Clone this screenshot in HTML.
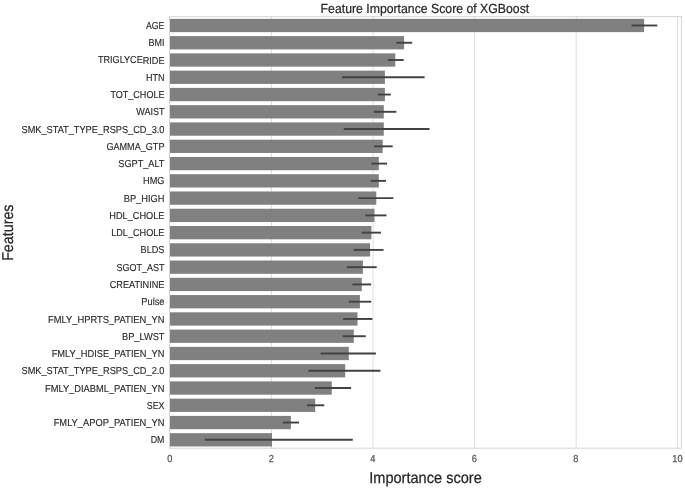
<!DOCTYPE html>
<html><head><meta charset="utf-8"><title>Feature Importance Score of XGBoost</title>
<style>
html,body{margin:0;padding:0;background:#fff;}
body{width:685px;height:488px;overflow:hidden;}
svg{display:block;}
text{font-family:"Liberation Sans",Arial,sans-serif;text-rendering:geometricPrecision;}
.yl{font-size:10.1px;fill:#2b2b2b;stroke:#2b2b2b;stroke-width:0.15px;text-anchor:end;}
.xl{font-size:10.1px;fill:#555;stroke:#555;stroke-width:0.25px;text-anchor:middle;}
.ax{font-size:15.7px;fill:#262626;stroke:#262626;stroke-width:0.25px;text-anchor:middle;}
.tt{font-size:13.2px;fill:#262626;stroke:#262626;stroke-width:0.22px;text-anchor:middle;}
</style></head><body>
<svg width="685" height="488" viewBox="0 0 685 488">
<rect width="685" height="488" fill="#fff"/>
<line x1="271.54" y1="16.6" x2="271.54" y2="448.2" stroke="#dedede" stroke-width="1"/>
<line x1="373.08" y1="16.6" x2="373.08" y2="448.2" stroke="#dedede" stroke-width="1"/>
<line x1="474.62" y1="16.6" x2="474.62" y2="448.2" stroke="#dedede" stroke-width="1"/>
<line x1="576.16" y1="16.6" x2="576.16" y2="448.2" stroke="#dedede" stroke-width="1"/>
<line x1="677.70" y1="16.6" x2="677.70" y2="448.2" stroke="#dedede" stroke-width="1"/>
<rect x="170.0" y="18.83" width="474.10" height="13.3" fill="#808080"/>
<rect x="170.0" y="36.10" width="234.10" height="13.3" fill="#808080"/>
<rect x="170.0" y="53.36" width="225.30" height="13.3" fill="#808080"/>
<rect x="170.0" y="70.62" width="214.90" height="13.3" fill="#808080"/>
<rect x="170.0" y="87.89" width="214.90" height="13.3" fill="#808080"/>
<rect x="170.0" y="105.15" width="213.80" height="13.3" fill="#808080"/>
<rect x="170.0" y="122.42" width="213.80" height="13.3" fill="#808080"/>
<rect x="170.0" y="139.68" width="212.70" height="13.3" fill="#808080"/>
<rect x="170.0" y="156.94" width="208.80" height="13.3" fill="#808080"/>
<rect x="170.0" y="174.21" width="208.80" height="13.3" fill="#808080"/>
<rect x="170.0" y="191.47" width="206.30" height="13.3" fill="#808080"/>
<rect x="170.0" y="208.74" width="204.50" height="13.3" fill="#808080"/>
<rect x="170.0" y="226.00" width="201.40" height="13.3" fill="#808080"/>
<rect x="170.0" y="243.26" width="200.10" height="13.3" fill="#808080"/>
<rect x="170.0" y="260.53" width="192.90" height="13.3" fill="#808080"/>
<rect x="170.0" y="277.79" width="191.80" height="13.3" fill="#808080"/>
<rect x="170.0" y="295.06" width="189.90" height="13.3" fill="#808080"/>
<rect x="170.0" y="312.32" width="187.50" height="13.3" fill="#808080"/>
<rect x="170.0" y="329.58" width="183.80" height="13.3" fill="#808080"/>
<rect x="170.0" y="346.85" width="178.80" height="13.3" fill="#808080"/>
<rect x="170.0" y="364.11" width="175.20" height="13.3" fill="#808080"/>
<rect x="170.0" y="381.38" width="161.80" height="13.3" fill="#808080"/>
<rect x="170.0" y="398.64" width="145.20" height="13.3" fill="#808080"/>
<rect x="170.0" y="415.90" width="120.90" height="13.3" fill="#808080"/>
<rect x="170.0" y="433.17" width="102.00" height="13.3" fill="#808080"/>
<line x1="631.6" y1="25.48" x2="657.3" y2="25.48" stroke="#424242" stroke-width="1.9"/>
<line x1="396.4" y1="42.75" x2="412.2" y2="42.75" stroke="#424242" stroke-width="1.9"/>
<line x1="387.9" y1="60.01" x2="403.7" y2="60.01" stroke="#424242" stroke-width="1.9"/>
<line x1="342.0" y1="77.27" x2="424.6" y2="77.27" stroke="#424242" stroke-width="1.9"/>
<line x1="377.9" y1="94.54" x2="390.8" y2="94.54" stroke="#424242" stroke-width="1.9"/>
<line x1="373.7" y1="111.80" x2="396.4" y2="111.80" stroke="#424242" stroke-width="1.9"/>
<line x1="343.8" y1="129.07" x2="429.5" y2="129.07" stroke="#424242" stroke-width="1.9"/>
<line x1="374.2" y1="146.33" x2="392.7" y2="146.33" stroke="#424242" stroke-width="1.9"/>
<line x1="371.3" y1="163.59" x2="387.1" y2="163.59" stroke="#424242" stroke-width="1.9"/>
<line x1="370.6" y1="180.86" x2="386.0" y2="180.86" stroke="#424242" stroke-width="1.9"/>
<line x1="358.4" y1="198.12" x2="393.4" y2="198.12" stroke="#424242" stroke-width="1.9"/>
<line x1="365.3" y1="215.39" x2="386.5" y2="215.39" stroke="#424242" stroke-width="1.9"/>
<line x1="361.6" y1="232.65" x2="381.0" y2="232.65" stroke="#424242" stroke-width="1.9"/>
<line x1="353.7" y1="249.91" x2="383.5" y2="249.91" stroke="#424242" stroke-width="1.9"/>
<line x1="346.9" y1="267.18" x2="376.7" y2="267.18" stroke="#424242" stroke-width="1.9"/>
<line x1="352.4" y1="284.44" x2="371.2" y2="284.44" stroke="#424242" stroke-width="1.9"/>
<line x1="348.8" y1="301.71" x2="371.3" y2="301.71" stroke="#424242" stroke-width="1.9"/>
<line x1="343.1" y1="318.97" x2="372.4" y2="318.97" stroke="#424242" stroke-width="1.9"/>
<line x1="342.6" y1="336.23" x2="365.8" y2="336.23" stroke="#424242" stroke-width="1.9"/>
<line x1="320.6" y1="353.50" x2="375.9" y2="353.50" stroke="#424242" stroke-width="1.9"/>
<line x1="308.4" y1="370.76" x2="380.4" y2="370.76" stroke="#424242" stroke-width="1.9"/>
<line x1="314.9" y1="388.03" x2="351.1" y2="388.03" stroke="#424242" stroke-width="1.9"/>
<line x1="307.0" y1="405.29" x2="324.2" y2="405.29" stroke="#424242" stroke-width="1.9"/>
<line x1="282.8" y1="422.55" x2="299.1" y2="422.55" stroke="#424242" stroke-width="1.9"/>
<line x1="204.8" y1="439.82" x2="352.8" y2="439.82" stroke="#424242" stroke-width="1.9"/>
<rect x="169.5" y="16.6" width="511.90" height="431.60" fill="none" stroke="#d6d6d6" stroke-width="1"/>
<text class="yl" transform="matrix(0.8644 0.0004 0 1 164.45 28.73)">AGE</text>
<text class="yl" transform="matrix(0.8880 0.0004 0 1 164.45 45.75)">BMI</text>
<text class="yl" transform="matrix(0.9003 0.0004 0 1 164.45 63.51)">TRIGLYCERIDE</text>
<text class="yl" transform="matrix(0.8948 0.0004 0 1 164.45 80.52)">HTN</text>
<text class="yl" transform="matrix(0.8947 0.0004 0 1 164.45 97.54)">TOT_CHOLE</text>
<text class="yl" transform="matrix(0.8942 0.0004 0 1 164.45 114.80)">WAIST</text>
<text class="yl" transform="matrix(0.9123 0.0004 0 1 164.45 132.57)">SMK_STAT_TYPE_RSPS_CD_3.0</text>
<text class="yl" transform="matrix(0.8999 0.0004 0 1 164.45 149.58)">GAMMA_GTP</text>
<text class="yl" transform="matrix(0.9076 0.0004 0 1 164.45 166.59)">SGPT_ALT</text>
<text class="yl" transform="matrix(0.9081 0.0004 0 1 164.45 183.86)">HMG</text>
<text class="yl" transform="matrix(0.9192 0.0004 0 1 164.45 201.62)">BP_HIGH</text>
<text class="yl" transform="matrix(0.9102 0.0004 0 1 164.45 218.64)">HDL_CHOLE</text>
<text class="yl" transform="matrix(0.9038 0.0004 0 1 164.45 235.65)">LDL_CHOLE</text>
<text class="yl" transform="matrix(0.9047 0.0004 0 1 164.45 252.91)">BLDS</text>
<text class="yl" transform="matrix(0.8912 0.0004 0 1 164.45 270.68)">SGOT_AST</text>
<text class="yl" transform="matrix(0.9072 0.0004 0 1 164.45 287.69)">CREATININE</text>
<text class="yl" transform="matrix(0.9148 0.0004 0 1 164.45 304.71)">Pulse</text>
<text class="yl" transform="matrix(0.9231 0.0004 0 1 164.45 322.72)">FMLY_HPRTS_PATIEN_YN</text>
<text class="yl" transform="matrix(0.9150 0.0004 0 1 164.45 339.73)">BP_LWST</text>
<text class="yl" transform="matrix(0.9184 0.0004 0 1 164.45 356.75)">FMLY_HDISE_PATIEN_YN</text>
<text class="yl" transform="matrix(0.9123 0.0004 0 1 164.45 373.76)">SMK_STAT_TYPE_RSPS_CD_2.0</text>
<text class="yl" transform="matrix(0.9220 0.0004 0 1 164.45 391.78)">FMLY_DIABML_PATIEN_YN</text>
<text class="yl" transform="matrix(0.8711 0.0004 0 1 164.45 408.54)">SEX</text>
<text class="yl" transform="matrix(0.9227 0.0004 0 1 164.45 425.55)">FMLY_APOP_PATIEN_YN</text>
<text class="yl" transform="matrix(0.8726 0.0004 0 1 164.45 442.82)">DM</text>
<text class="xl" transform="matrix(0.911 0 0 1 169.70 461.9)">0</text>
<text class="xl" transform="matrix(0.911 0 0 1 271.24 461.9)">2</text>
<text class="xl" transform="matrix(0.911 0 0 1 372.78 461.9)">4</text>
<text class="xl" transform="matrix(0.911 0 0 1 474.32 461.9)">6</text>
<text class="xl" transform="matrix(0.911 0 0 1 575.86 461.9)">8</text>
<text class="xl" transform="matrix(0.911 0 0 1 677.40 461.9)">10</text>
<text class="tt" transform="matrix(0.93 0 0 1 424.9 12.5)">Feature Importance Score of XGBoost</text>
<text class="ax" transform="matrix(0.929 0 0 1 425.5 483.4)">Importance score</text>
<text class="ax" transform="translate(12.9 232.7) rotate(-90) scale(0.91 1)">Features</text>
</svg>
</body></html>
